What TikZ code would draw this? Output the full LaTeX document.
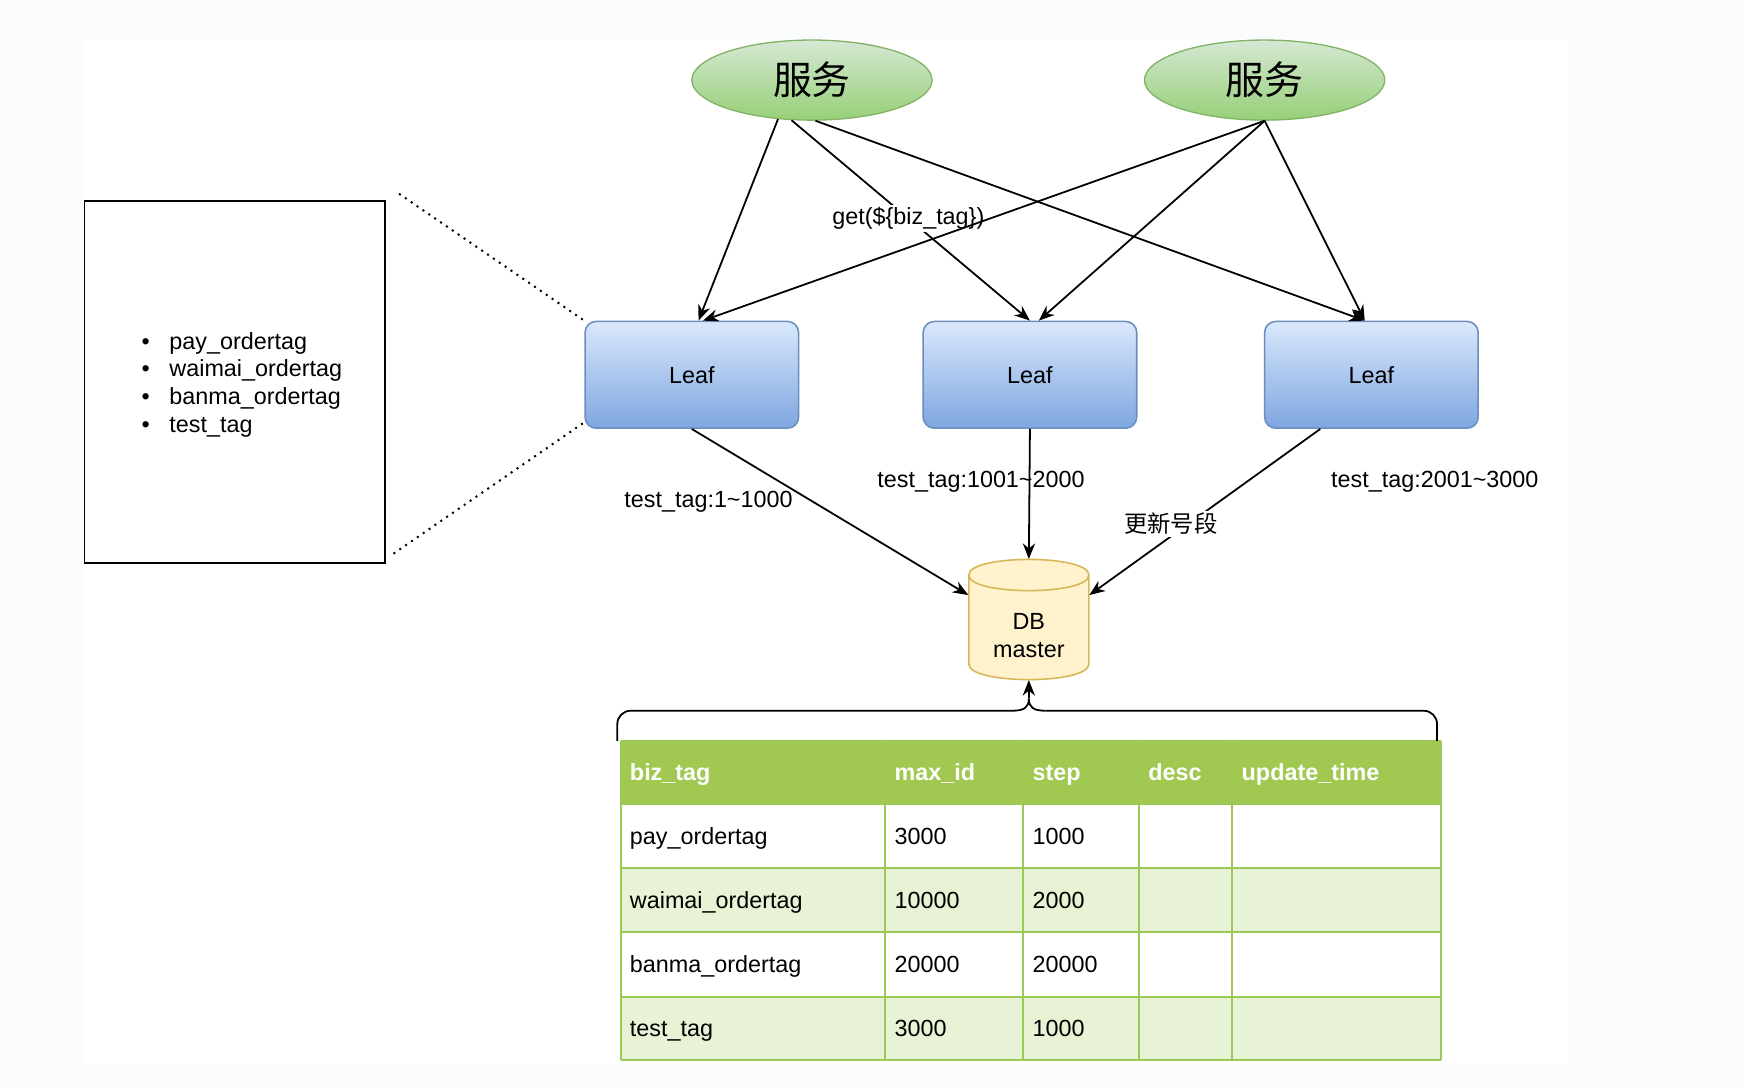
\documentclass[tikz,border=0pt]{standalone}
\usepackage{fontspec}
\setmainfont{Liberation Sans}
\newfontfamily\cjk{Noto Sans CJK SC}
\usetikzlibrary{shapes.geometric,arrows.meta}
\definecolor{pagegray}{RGB}{250,251,252}
\definecolor{svctop}{RGB}{213,232,212}
\definecolor{svcbot}{RGB}{151,208,119}
\definecolor{svcline}{RGB}{130,179,102}
\definecolor{leaftop}{RGB}{218,232,252}
\definecolor{leafbot}{RGB}{126,166,224}
\definecolor{leafline}{RGB}{108,142,191}
\definecolor{dbfill}{RGB}{255,242,204}
\definecolor{dbline}{RGB}{214,182,86}
\definecolor{tablegreen}{RGB}{161,201,82}
\definecolor{tablelight}{RGB}{231,243,212}
\definecolor{tableline}{RGB}{155,201,85}

\begin{document}
\begin{tikzpicture}[x=0.5pt,y=-0.5pt,
  font=\fontsize{10.5}{12.6}\selectfont,
  service/.style={ellipse,draw=svcline,line width=0.6pt,top color=svctop,bottom color=svcbot,
    minimum width=108pt,minimum height=36pt,inner sep=0pt,font=\cjk\fontsize{17.5}{20}\selectfont},
  leaf/.style={rectangle,rounded corners=5pt,draw=leafline,line width=0.7pt,top color=leaftop,
    bottom color=leafbot,minimum width=96pt,minimum height=48pt},
  arrow/.style={-{Stealth[length=7pt,width=5.5pt]},line width=0.8pt},
  lbl/.style={inner sep=1pt},
  celltxt/.style={anchor=base west,inner sep=0pt},
  headtxt/.style={anchor=base west,inner sep=0pt,text=white,font=\fontsize{10.5}{12.6}\selectfont\bfseries}]
\useasboundingbox (0,0) rectangle (1568,978);
% Background
\fill[pagegray] (0,0) rectangle (1568,978);
\fill[white] (75,35) rectangle (1410,957);
% Tag list box
\node[draw,line width=0.8pt,minimum width=135pt,minimum height=162.5pt,inner sep=0pt] (tagbox) at (211,343.5) {};
\node[anchor=west,align=left,inner sep=0pt,font=\fontsize{10.5}{12.5}\selectfont] (taglist) at (127,346)
  {\makebox[12.5pt][l]{\textbullet}pay\_ordertag\\\makebox[12.5pt][l]{\textbullet}waimai\_ordertag\\
   \makebox[12.5pt][l]{\textbullet}banma\_ordertag\\\makebox[12.5pt][l]{\textbullet}test\_tag};
% Services and leaves
\node[service] (svca) at (730,72) {服务};
\node[service] (svcb) at (1137,72) {服务};
\node[leaf] (leafa) at (622,337) {Leaf};
\node[leaf] (leafb) at (926,337) {Leaf};
\node[leaf] (leafc) at (1233,337) {Leaf};
% Zoom lines
\draw[line width=0.9pt,dash pattern=on 0.9pt off 2.3pt] ([xshift=6pt,yshift=3pt]tagbox.north east) -- (leafa.north west);
\draw[line width=0.9pt,dash pattern=on 0.9pt off 2.3pt] ([xshift=3.5pt,yshift=4.5pt]tagbox.south east) -- ([yshift=3pt]leafa.south west);
% DB master
\node[minimum width=54pt,minimum height=54pt,inner sep=0pt] (db) at (925,557) {};
\draw[dbline,fill=dbfill,line width=0.7pt] (871,517) -- (871,597) .. controls (871,615.7) and (979,615.7) .. (979,597)
  -- (979,517) .. controls (979,498.3) and (871,498.3) .. (871,517) -- cycle;
\draw[dbline,line width=0.7pt] (871,517) .. controls (871,535.7) and (979,535.7) .. (979,517);
\node[align=center,inner sep=0pt] (dbtext) at (925,571) {DB\\master};
% Requests from the services
\draw[arrow] (svca.229) -- ([xshift=3pt]leafa.north);
\draw[arrow] (svca.243) -- node[lbl,fill=white,pos=0.49] (getlbl) {get(\$\{biz\_tag\})} (leafb.north);
\draw[arrow] (svca.275) -- ([xshift=-3pt]leafc.north);
\draw[arrow] (svcb.south) -- ([xshift=5pt]leafa.north);
\draw[arrow] (svcb.south) -- ([xshift=4pt]leafb.north);
\draw[arrow] (svcb.south) -- ([xshift=-3pt]leafc.north);
% Segments from DB
\draw[arrow] (leafa.south) -- (db.158);
\draw[arrow] (leafb.south) -- (db.north);
\draw[arrow] ([xshift=-23pt]leafc.south) -- node[lbl,fill=white,pos=0.57,xshift=-8pt,font=\cjk\fontsize{10.5}{12.6}\selectfont] (updlbl) {更新号段} (db.22);
\node[lbl] (rangea) at (637,451) {test\_tag:1\textasciitilde1000};
\node[lbl] (rangeb) at (882,433) {test\_tag:1001\textasciitilde2000};
\node[lbl] (rangec) at (1290,433) {test\_tag:2001\textasciitilde3000};
% Table
\foreach \ya/\yb/\fc in {666/723/tablegreen,723/780/white,780/838/tablelight,838/896/white,896/953/tablelight}
  \fill[\fc] (558,\ya) rectangle (1296,\yb);
\foreach \x in {558,796,920,1024,1108,1296}
  \draw[tableline,line width=0.9pt] (\x,666) -- (\x,953);
\foreach \y in {666,723,780,838,896,953}
  \draw[tableline,line width=0.9pt] (558,\y) -- (1296,\y);
\foreach \x/\t [count=\i] in {566/biz\_tag,804/max\_id,928/step,1032/desc,1116/update\_time}
  \node[headtxt] (head\i) at (\x,702) {\t};
\foreach \y/\a/\b/\c [count=\r] in {759/pay\_ordertag/3000/1000,817/waimai\_ordertag/10000/2000,
    874/banma\_ordertag/20000/20000,932/test\_tag/3000/1000}{
  \node[celltxt] (tag\r) at (566,\y) {\a};
  \node[celltxt] (maxid\r) at (804,\y) {\b};
  \node[celltxt] (step\r) at (928,\y) {\c};
}
% Brace over the table
\coordinate (bracetip) at (925,628);
\draw[line width=0.8pt,rounded corners=6pt] (555,666) -- (555,639) -- (910,639);
\draw[line width=0.8pt] (910,639) .. controls (921,639) and (925,636) .. (bracetip) .. controls (925,636) and (929,639) .. (940,639);
\draw[line width=0.8pt,rounded corners=6pt] (940,639) -- (1292,639) -- (1292,666);
\draw[arrow] (bracetip) -- (db.south);
\end{tikzpicture}
\end{document}
